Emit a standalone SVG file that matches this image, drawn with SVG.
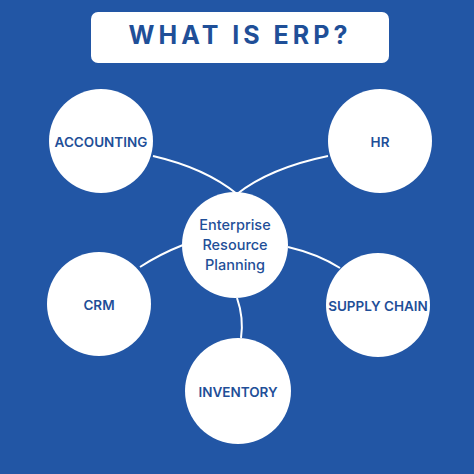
<svg xmlns="http://www.w3.org/2000/svg" width="474" height="474" viewBox="0 0 474 474">
<style>
.node circle{fill:#ffffff}
.lbl{font-family:Inter,"Open Sans","Liberation Sans",sans-serif;font-weight:600;fill:#1f4f98;text-anchor:middle}
.conn{fill:none;stroke:#ffffff;stroke-width:2}
</style>
<rect width="474" height="474" fill="#2256a5"/>
<g id="title">
<rect x="91" y="12" width="298" height="51" rx="7" fill="#ffffff"/>
<text x="240" y="44" class="lbl" font-size="25" letter-spacing="4" font-weight="700" style="font-weight:700">WHAT IS ERP?</text>
</g>
<g id="connectors">
<path class="conn" d="M153,156 Q205,168 237,194"/>
<path class="conn" d="M328,156 Q270,168 237,194"/>
<path class="conn" d="M183,245 Q160,254 140,267"/>
<path class="conn" d="M288,247 Q318,254 340,268"/>
<path class="conn" d="M237,298 Q244,318 241,338"/>
</g>
<g id="accounting" class="node"><circle cx="101" cy="141" r="52"/><text x="101" y="147" class="lbl" font-size="13.5">ACCOUNTING</text></g>
<g id="hr" class="node"><circle cx="380" cy="141" r="52"/><text x="380" y="147" class="lbl" font-size="13.5">HR</text></g>
<g id="erp" class="node"><circle cx="235" cy="245" r="53"/>
<text class="lbl" font-size="14.5" style="font-weight:500"><tspan x="235" y="230">Enterprise</tspan><tspan x="235" y="250">Resource</tspan><tspan x="235" y="270">Planning</tspan></text></g>
<g id="crm" class="node"><circle cx="99" cy="304" r="52"/><text x="99" y="310" class="lbl" font-size="13.5">CRM</text></g>
<g id="supply" class="node"><circle cx="378" cy="305" r="52"/><text x="378" y="311" class="lbl" font-size="13.5">SUPPLY CHAIN</text></g>
<g id="inventory" class="node"><circle cx="238" cy="391" r="53"/><text x="238" y="397" class="lbl" font-size="13.5">INVENTORY</text></g>
</svg>
